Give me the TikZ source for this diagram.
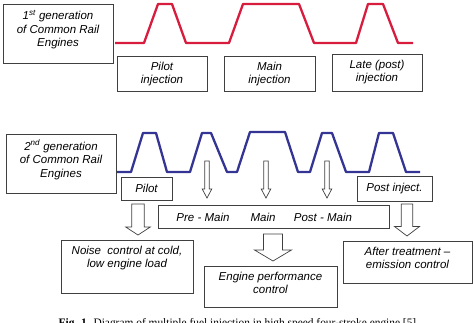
\documentclass[tikz,border=0pt]{standalone}
\usepackage{fontspec}
\setmainfont{Liberation Sans}
\newfontfamily\capfont{Liberation Serif}
\usetikzlibrary{calc}
\definecolor{wavered}{RGB}{216,28,62}
\definecolor{waveblue}{RGB}{52,52,148}
\newcommand{\boxfont}{\fontsize{11.5}{13.5}\selectfont\itshape}
% hollow arrow pointing down: start, tip, shaft half width, head half width, head length
\newcommand{\blockdown}[5]{%
  \draw[blockarrow] let \p1=(#1), \p2=(#2) in
    (\x1-#3pt,\y1) -- (\x1-#3pt,\y2+#5pt) -- (\x1-#4pt,\y2+#5pt) -- (\x1,\y2)
    -- (\x1+#4pt,\y2+#5pt) -- (\x1+#3pt,\y2+#5pt) -- (\x1+#3pt,\y1) -- cycle;}
\tikzset{
  infobox/.style={draw=black!75, line width=0.8pt, inner sep=0pt, font=\boxfont},
  toptext/.style={anchor=north, yshift=-3pt, align=center, font=\boxfont},
  phase/.style={font=\boxfont, inner sep=1pt},
  blockarrow/.style={draw=black!75, line width=0.7pt, fill=white, line join=miter},
  wave/.style={line width=2.3pt, line join=round}
}
\begin{document}
\begin{tikzpicture}[x=1pt, y=-1pt]
	\useasboundingbox (0,0) rectangle (474,323);
	\clip (0,0) rectangle (474,323);

	% 1st generation: three separate injections
	\node[infobox, minimum width=110, minimum height=59,
		label={[toptext]north:{1\textsuperscript{st} generation\\of Common Rail\\Engines}}] (gen1) at (58,33.5) {};
	\draw[wave, wavered] (115,43) -- (144,43) -- (158,4) -- (172,4) -- (186,43) -- (229,43) -- (243,4) -- (299,4)
		-- (314,43) -- (356,43) -- (368,4) -- (383,4) -- (398,43) -- (413,43);
	\node[infobox, minimum width=90, minimum height=35,
		label={[toptext]north:{Pilot\\injection}}] (pilotinj) at (162,73.5) {};
	\node[infobox, minimum width=91, minimum height=35,
		label={[toptext]north:{Main\\injection}}] (maininj) at (269.5,73.5) {};
	\node[infobox, minimum width=90, minimum height=37,
		label={[toptext]north:{Late (post)\\injection}}] (lateinj) at (377,72.5) {};

	% 2nd generation: multiple injections
	\node[infobox, minimum width=110, minimum height=59,
		label={[toptext]north:{2\textsuperscript{nd} generation\\of Common Rail\\Engines}}] (gen2) at (61,163.5) {};
	\draw[wave, waveblue] (117,172) -- (131,172) -- (143,133) -- (156,133) -- (167,172) -- (190,172) -- (202,133)
		-- (211,133) -- (227,172) -- (237,172) -- (250,132) -- (285,132) -- (298,172) -- (310,172) -- (322,133)
		-- (332,133) -- (346,172) -- (369,172) -- (379,133) -- (393,133) -- (406,172) -- (420,172);
	\node[infobox, minimum width=51, minimum height=23] (pilot) at (146.5,188.5) {Pilot};
	\node[infobox, minimum width=75, minimum height=25] (postinj) at (394.5,188.5) {Post inject.};
	\node[infobox, minimum width=231, minimum height=23] (phases) at (273.5,216.5) {};
	\node[phase] (premain) at (203,217) {Pre - Main};
	\node[phase] (mainph) at (263,217) {Main};
	\node[phase] (postmain) at (323,217) {Post - Main};

	% purposes
	\node[infobox, minimum width=132, minimum height=53,
		label={[toptext]north:{Noise\ \ control at cold,\\low engine load}}] (noise) at (127,266.5) {};
	\node[infobox, minimum width=133, minimum height=41,
		label={[toptext]north:{Engine performance\\control}}] (engine) at (270.5,286.5) {};
	\node[infobox, minimum width=129, minimum height=42,
		label={[toptext]north:{After treatment –\\emission control}}] (after) at (407.5,262) {};

	% arrow ends
	\foreach \arr/\xa in {pre/207, mid/266, post/327} {
		\coordinate (\arr top) at (\xa,161);
		\coordinate (\arr tip) at (\xa,198);
	}
	\coordinate (pilot top) at (138,204);
	\coordinate (pilot tip) at (138,235);
	\coordinate (late top) at (407,204);
	\coordinate (late tip) at (407,236);
	\coordinate (engine top) at (273,234);
	\coordinate (engine tip) at (273,261);

	\foreach \arr in {pre, mid, post} {
		\blockdown{\arr top}{\arr tip}{2.3}{4.8}{9}
	}
	\blockdown{pilot top}{pilot tip}{6.3}{12.3}{8}
	\blockdown{late top}{late tip}{5.8}{12.5}{9.5}
	\blockdown{engine top}{engine tip}{9.5}{18.5}{11}

	% caption, cut off at the lower edge
	\node[anchor=base, font=\capfont\fontsize{11.4}{13}\selectfont] (caption) at (237.5,326)
		{\textbf{Fig. 1.} Diagram of multiple fuel injection in high speed four-stroke engine [5]};
\end{tikzpicture}
\end{document}
